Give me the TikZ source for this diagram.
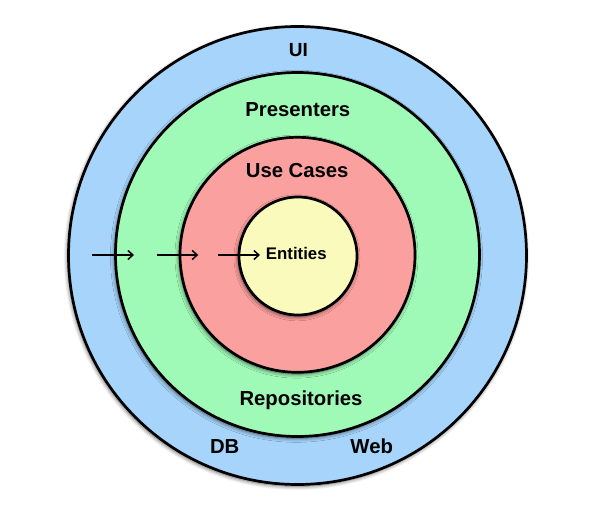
\documentclass[tikz,border=0pt]{standalone}
\usepackage{fontspec}
\setmainfont{Liberation Sans}
\usetikzlibrary{shadows.blur,arrows.meta}
\definecolor{ringblue}{RGB}{166,212,250}
\definecolor{ringgreen}{RGB}{160,250,183}
\definecolor{ringred}{RGB}{250,160,158}
\definecolor{ringyellow}{RGB}{250,250,188}
\tikzset{
  ring/.style={circle, draw=black, line width=2.7pt, inner sep=0pt,
    blur shadow={shadow xshift=-1pt, shadow yshift=-1.8pt, shadow blur radius=4pt, shadow blur steps=8, shadow opacity=60}},
  lbl/.style={anchor=base, inner sep=0pt, font=\fontsize{20.3}{20.3}\selectfont\bfseries},
  flow/.style={line width=1.5pt, -{Straight Barb[length=5pt,width=9pt,line width=1.5pt]}}
}
\begin{document}
\begin{tikzpicture}[x=1pt,y=-1pt]
\useasboundingbox (0,0) rectangle (599,510);
\node[ring, fill=ringblue, minimum size=458pt] (ui) at (297.5,255.5) {};
\node[ring, fill=ringgreen, minimum size=364pt] (pres) at (297.5,254.5) {};
\node[ring, fill=ringred, minimum size=235pt] (uc) at (297.5,254.8) {};
\node[ring, fill=ringyellow, minimum size=118pt] (ent) at (298,256) {};
\node[lbl, font=\fontsize{19}{19}\selectfont\bfseries] (tui) at (298.3,56.7) {UI};
\node[lbl] (tpres) at (297.8,116.7) {Presenters};
\node[lbl] (tuc) at (297.2,177.7) {Use Cases};
\node[lbl, font=\fontsize{16.8}{16.8}\selectfont\bfseries] (tent) at (296.3,260) {Entities};
\node[lbl] (trep) at (301,405) {Repositories};
\node[lbl] (tdb) at (224.7,453.3) {DB};
\node[lbl] (tweb) at (371.7,453.3) {Web};
\coordinate (a1s) at (91.7,255);
\coordinate (a1e) at (134,255);
\coordinate (a2s) at (156.7,255);
\coordinate (a2e) at (198.3,255);
\coordinate (a3s) at (218.3,255);
\coordinate (a3e) at (260,255);
\draw[flow] (a1s) -- (a1e);
\draw[flow] (a2s) -- (a2e);
\draw[flow] (a3s) -- (a3e);
\end{tikzpicture}
\end{document}
